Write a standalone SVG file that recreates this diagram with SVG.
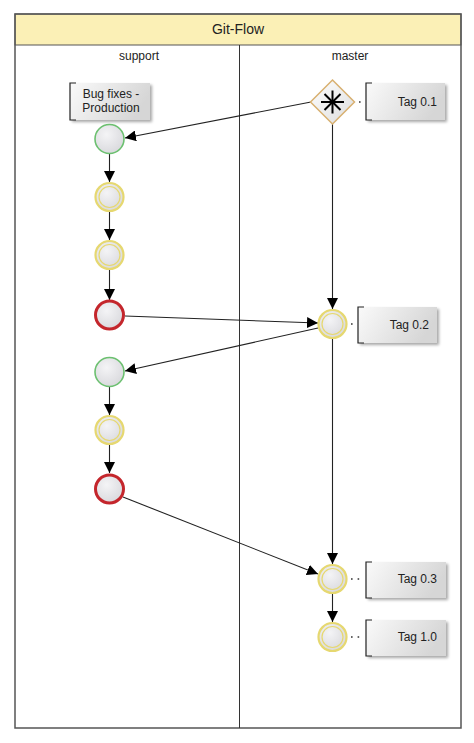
<svg xmlns="http://www.w3.org/2000/svg" width="474" height="743" viewBox="0 0 474 743">
<defs>
<linearGradient id="boxg" x1="0" y1="0" x2="1" y2="0.3">
<stop offset="0" stop-color="#fafafa"/><stop offset="1" stop-color="#d6d6d6"/>
</linearGradient>
<radialGradient id="cg" cx="0.4" cy="0.35" r="0.7">
<stop offset="0" stop-color="#f4f4f6"/><stop offset="1" stop-color="#d8d8dc"/>
</radialGradient>
<linearGradient id="dg" x1="0" y1="0" x2="1" y2="1">
<stop offset="0" stop-color="#ffffff"/><stop offset="1" stop-color="#dcdcdc"/>
</linearGradient>
<filter id="sh" x="-20%" y="-20%" width="150%" height="150%">
<feGaussianBlur in="SourceAlpha" stdDeviation="1.5"/>
<feOffset dx="2" dy="2" result="b"/>
<feComponentTransfer><feFuncA type="linear" slope="0.35"/></feComponentTransfer>
<feMerge><feMergeNode/><feMergeNode in="SourceGraphic"/></feMerge>
</filter>
<marker id="arr" viewBox="0 0 10 10" refX="10" refY="5" markerWidth="11" markerHeight="11" markerUnits="userSpaceOnUse" orient="auto">
<path d="M0,0 L10,5 L0,10 Z" fill="#000"/>
</marker>
</defs>
<style>
text{font-family:"Liberation Sans",Arial,sans-serif;fill:#222}
.lbl{font-size:12px}
.title{font-size:14px}
.flow{stroke:#222;stroke-width:1.1;fill:none;marker-end:url(#arr)}
.assoc{stroke:#333;stroke-width:1.6;stroke-dasharray:1.6 5;fill:none}
.box{fill:url(#boxg);filter:url(#sh)}
.brk{fill:none;stroke:#222;stroke-width:1.2}
.green{fill:url(#cg);stroke:#6cc070;stroke-width:1.6}
.yel{fill:url(#cg);stroke:#e6d870;stroke-width:2.2}
.yelin{fill:none;stroke:#e6d870;stroke-width:1.2}
.red{fill:url(#cg);stroke:#c4262c;stroke-width:3}
</style>
<rect width="474" height="743" fill="#fff"/>
<g id="pool">
<rect x="15" y="14" width="446" height="31" fill="#fbf0b6" stroke="#555" stroke-width="1"/>
<text x="238" y="34" text-anchor="middle" class="title">Git-Flow</text>
<rect x="15" y="14" width="446" height="714" fill="none" stroke="#555" stroke-width="1.5"/>
<line x1="239.5" y1="45" x2="239.5" y2="728" stroke="#333" stroke-width="1"/>
<text x="139" y="60" text-anchor="middle" class="lbl">support</text>
<text x="350" y="60" text-anchor="middle" class="lbl">master</text>
</g>
<g id="connectors">
<line class="flow" x1="311" y1="102" x2="125" y2="138"/>
<line class="flow" x1="332.5" y1="123" x2="332.5" y2="309"/>
<line class="flow" x1="109.5" y1="154" x2="109.5" y2="182"/>
<line class="flow" x1="109.5" y1="212" x2="109.5" y2="240"/>
<line class="flow" x1="109.5" y1="270" x2="109.5" y2="300"/>
<line class="flow" x1="125" y1="316" x2="318" y2="323"/>
<line class="flow" x1="318" y1="328" x2="125" y2="371"/>
<line class="flow" x1="109.5" y1="387" x2="109.5" y2="415"/>
<line class="flow" x1="109.5" y1="445" x2="109.5" y2="473"/>
<line class="flow" x1="123" y1="497" x2="318" y2="574"/>
<line class="flow" x1="332.5" y1="338" x2="332.5" y2="564"/>
<line class="flow" x1="332.5" y1="593" x2="332.5" y2="622"/>
<line class="assoc" x1="359" y1="102" x2="362" y2="102"/>
<line class="assoc" x1="351" y1="324" x2="354" y2="324"/>
<line class="assoc" x1="351" y1="579" x2="361" y2="579"/>
<line class="assoc" x1="351" y1="637" x2="361" y2="637"/>
</g>
<g id="bugfix">
<rect class="box" x="70" y="83" width="80" height="37"/>
<path class="brk" d="M76,83 H70 V120 H76"/>
<text x="111" y="98" text-anchor="middle" class="lbl">Bug fixes -</text>
<text x="111" y="112" text-anchor="middle" class="lbl">Production</text>
</g>
<g id="start">
<path d="M332.5,80 L354.5,102 L332.5,124 L310.5,102 Z" fill="url(#dg)" stroke="#d8b070" stroke-width="1.5"/>
<g stroke="#000" stroke-width="2">
<line x1="321" y1="102" x2="344" y2="102"/>
<line x1="332.5" y1="90.5" x2="332.5" y2="113.5"/>
<line x1="324.5" y1="94" x2="340.5" y2="110"/>
<line x1="324.5" y1="110" x2="340.5" y2="94"/>
</g>
</g>
<g id="tag01">
<rect class="box" x="366" y="83" width="79" height="37"/>
<path class="brk" d="M372,83 H366 V120 H372"/>
<text x="437" y="106" text-anchor="end" class="lbl">Tag 0.1</text>
</g>
<g id="s1"><circle class="green" cx="109.5" cy="139" r="14.5"/></g>
<g id="s2"><circle class="yel" cx="109.5" cy="197" r="14"/><circle class="yelin" cx="109.5" cy="197" r="10.5"/></g>
<g id="s3"><circle class="yel" cx="109.5" cy="255" r="14"/><circle class="yelin" cx="109.5" cy="255" r="10.5"/></g>
<g id="s4"><circle class="red" cx="109.5" cy="315" r="14"/></g>
<g id="s5"><circle class="green" cx="109.5" cy="372" r="14.5"/></g>
<g id="s6"><circle class="yel" cx="109.5" cy="430" r="14"/><circle class="yelin" cx="109.5" cy="430" r="10.5"/></g>
<g id="s7"><circle class="red" cx="109.5" cy="489" r="14"/></g>
<g id="m1"><circle class="yel" cx="332.5" cy="324" r="14"/><circle class="yelin" cx="332.5" cy="324" r="10.5"/></g>
<g id="tag02">
<rect class="box" x="358" y="307" width="79" height="36"/>
<path class="brk" d="M364,307 H358 V343 H364"/>
<text x="429" y="329" text-anchor="end" class="lbl">Tag 0.2</text>
</g>
<g id="m2"><circle class="yel" cx="332.5" cy="579" r="14"/><circle class="yelin" cx="332.5" cy="579" r="10.5"/></g>
<g id="tag03">
<rect class="box" x="366" y="562" width="80" height="36"/>
<path class="brk" d="M372,562 H366 V598 H372"/>
<text x="437" y="583" text-anchor="end" class="lbl">Tag 0.3</text>
</g>
<g id="m3"><circle class="yel" cx="332.5" cy="637" r="14"/><circle class="yelin" cx="332.5" cy="637" r="10.5"/></g>
<g id="tag10">
<rect class="box" x="366" y="620" width="80" height="36"/>
<path class="brk" d="M372,620 H366 V656 H372"/>
<text x="437" y="641" text-anchor="end" class="lbl">Tag 1.0</text>
</g>
</svg>
